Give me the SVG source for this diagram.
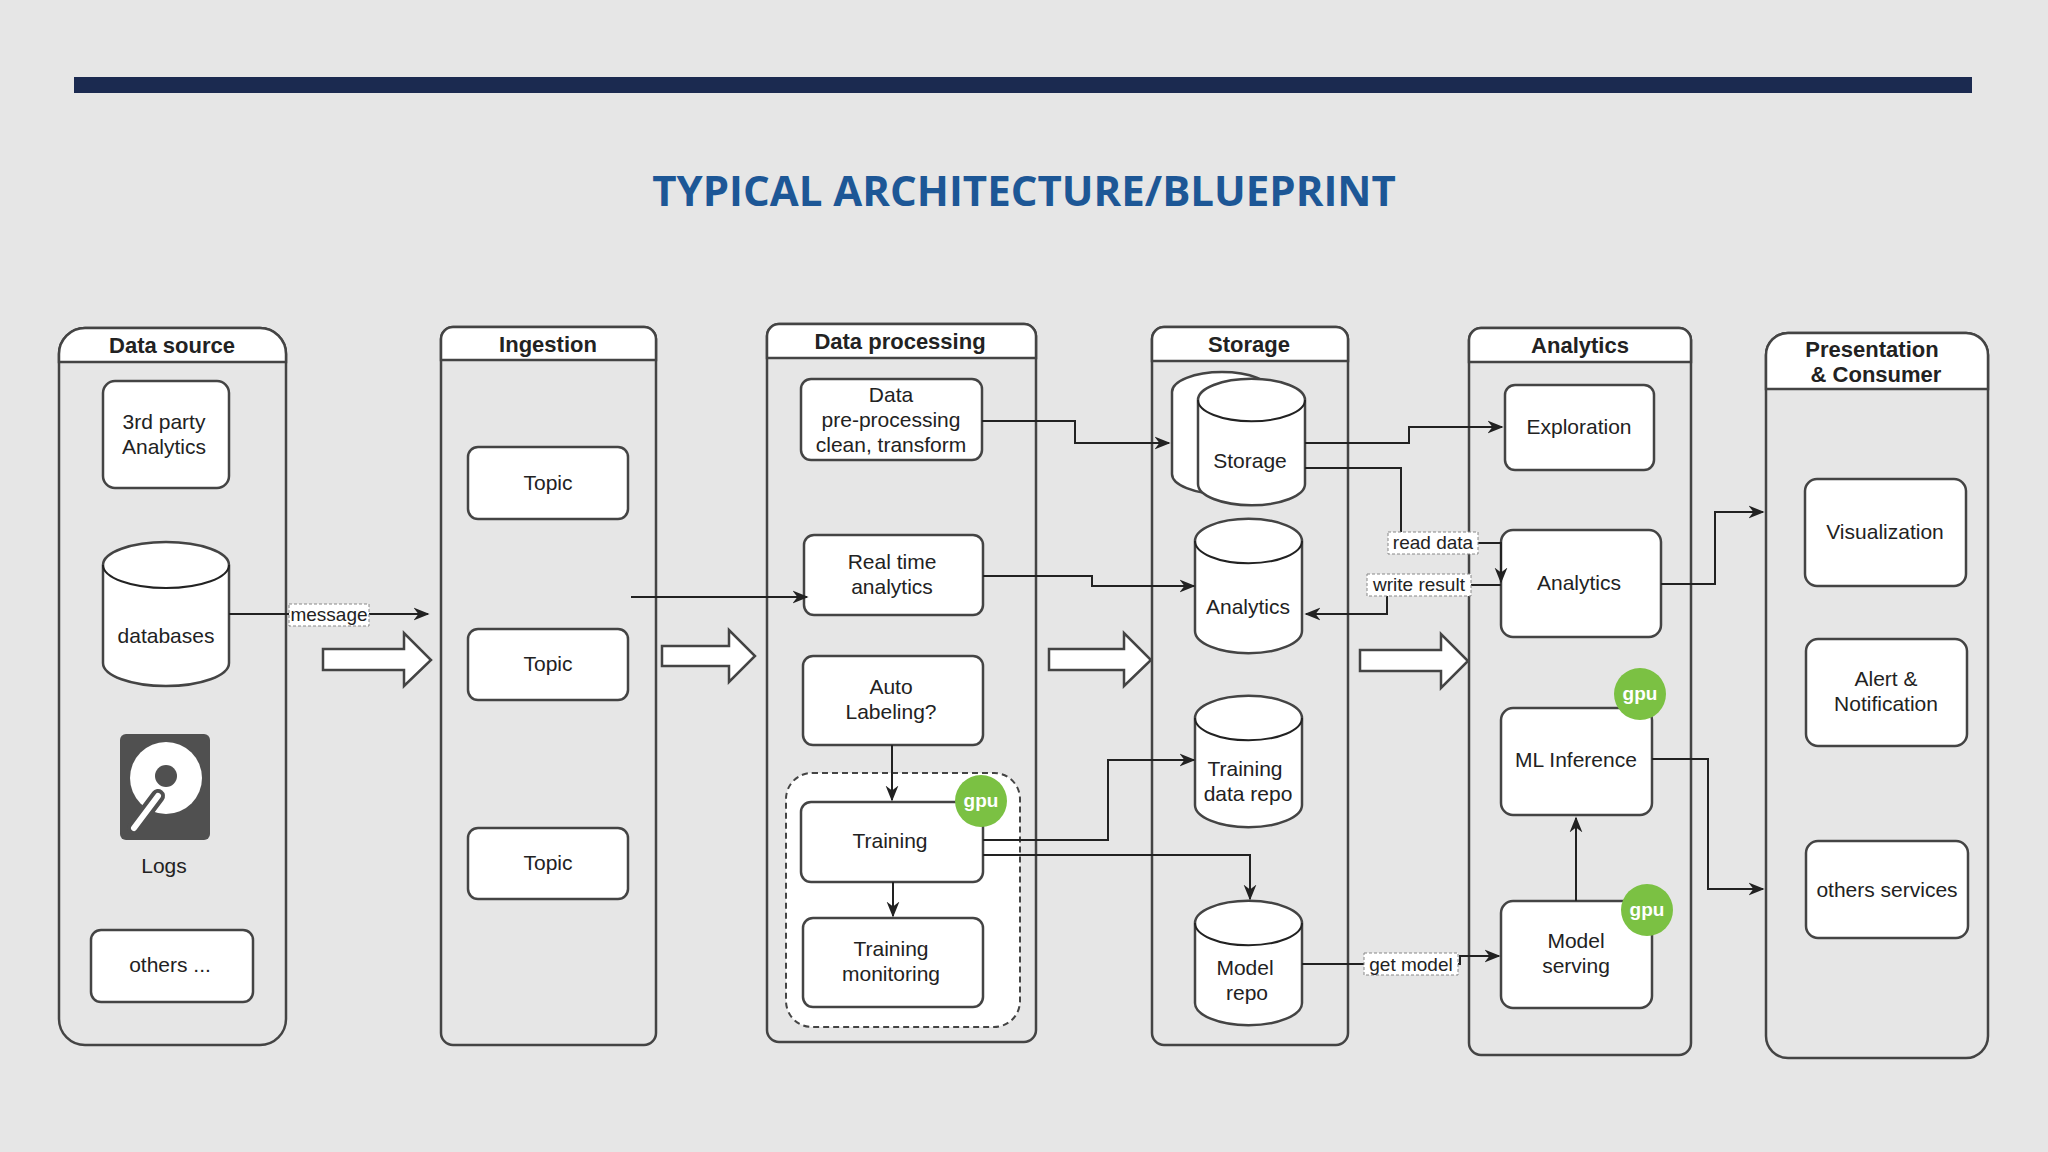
<svg xmlns="http://www.w3.org/2000/svg" width="2048" height="1152" viewBox="0 0 2048 1152">
<style>
text{font-family:"Liberation Sans",Arial,sans-serif;fill:#222;text-anchor:middle}
.t{font-size:21px}
.h{font-size:22px;font-weight:bold}
.lane{fill:#fff;stroke:#444;stroke-width:2.5}
.body{fill:#e6e6e6;stroke:#444;stroke-width:2.5}
.box{fill:#fff;stroke:#444;stroke-width:2.5}
.c{fill:none;stroke:#222;stroke-width:2}
.blk{fill:#fff;stroke:#444;stroke-width:2.5}
.gpu{fill:#7bc143}
.g{font-size:19px;font-weight:bold;fill:#fff}
.lbl{fill:#fff;stroke:#888;stroke-width:1;stroke-dasharray:3 2}
</style>
<defs>
<marker id="a" viewBox="0 0 10 10" refX="9" refY="5" markerWidth="8" markerHeight="8" orient="auto"><path d="M0,1 L10,5 L0,9 L3,5 Z" fill="#222"/></marker>
</defs>
<rect width="2048" height="1152" fill="#e6e6e6"/>
<rect x="74" y="77" width="1898" height="16" fill="#1b2a50"/>
<text x="1024" y="206" style="font-family:'Open Sans','Liberation Sans',sans-serif;font-size:42px;font-weight:bold;fill:#1d5796">TYPICAL ARCHITECTURE/BLUEPRINT</text>

<g id="lane-datasource"><rect class="body" x="59" y="328" width="227" height="717" rx="26"/><path class="lane" d="M59,362 V354 A26,26 0 0 1 85,328 H260 A26,26 0 0 1 286,354 V362 Z"/><text class="h" x="172" y="353">Data source</text></g>
<g id="lane-ingestion"><rect class="body" x="441" y="327" width="215" height="718" rx="12"/><path class="lane" d="M441,360 V339 A12,12 0 0 1 453,327 H644 A12,12 0 0 1 656,339 V360 Z"/><text class="h" x="548" y="352">Ingestion</text></g>
<g id="lane-processing"><rect class="body" x="767" y="324" width="269" height="718" rx="12"/><path class="lane" d="M767,358 V336 A12,12 0 0 1 779,324 H1024 A12,12 0 0 1 1036,336 V358 Z"/><text class="h" x="900" y="349">Data processing</text></g>
<g id="lane-storage"><rect class="body" x="1152" y="327" width="196" height="718" rx="12"/><path class="lane" d="M1152,361 V339 A12,12 0 0 1 1164,327 H1336 A12,12 0 0 1 1348,339 V361 Z"/><text class="h" x="1249" y="352">Storage</text></g>
<g id="lane-analytics"><rect class="body" x="1469" y="328" width="222" height="727" rx="12"/><path class="lane" d="M1469,362 V340 A12,12 0 0 1 1481,328 H1679 A12,12 0 0 1 1691,340 V362 Z"/><text class="h" x="1580" y="353">Analytics</text></g>
<g id="lane-presentation"><rect class="body" x="1766" y="333" width="222" height="725" rx="22"/><path class="lane" d="M1766,389 V355 A22,22 0 0 1 1788,333 H1966 A22,22 0 0 1 1988,355 V389 Z"/><text class="h" x="1872" y="357">Presentation</text><text class="h" x="1876" y="382">&amp; Consumer</text></g>

<g id="n-3rdparty"><rect class="box" x="103" y="381" width="126" height="107" rx="12"/><text class="t" x="164" y="429">3rd party</text><text class="t" x="164" y="454">Analytics</text></g>
<g id="n-databases"><path class="box" d="M103,565 A63,23 0 0 1 229,565 V663 A63,23 0 0 1 103,663 Z"/><path class="c" d="M103,565 A63,23 0 0 0 229,565"/><text class="t" x="166" y="643">databases</text></g>
<g id="n-logs"><rect x="120" y="734" width="90" height="106" rx="6" fill="#505050"/><circle cx="166" cy="778" r="36" fill="#fff"/><path d="M158,796 L134,828" stroke="#505050" stroke-width="14" stroke-linecap="round"/><path d="M158,796 L134,828" stroke="#fff" stroke-width="6" stroke-linecap="round"/><circle cx="166" cy="776" r="11" fill="#505050"/><text class="t" x="164" y="873">Logs</text></g>
<g id="n-others"><rect class="box" x="91" y="930" width="162" height="72" rx="10"/><text class="t" x="170" y="972">others ...</text></g>

<g id="n-topic1"><rect class="box" x="468" y="447" width="160" height="72" rx="10"/><text class="t" x="548" y="490">Topic</text></g>
<g id="n-topic2"><rect class="box" x="468" y="629" width="160" height="71" rx="10"/><text class="t" x="548" y="671">Topic</text></g>
<g id="n-topic3"><rect class="box" x="468" y="828" width="160" height="71" rx="10"/><text class="t" x="548" y="870">Topic</text></g>

<g id="n-preproc"><rect class="box" x="801" y="379" width="181" height="81" rx="10"/><text class="t" x="891" y="402">Data</text><text class="t" x="891" y="427">pre-processing</text><text class="t" x="891" y="452">clean, transform</text></g>
<g id="n-realtime"><rect class="box" x="804" y="535" width="179" height="80" rx="10"/><text class="t" x="892" y="569">Real time</text><text class="t" x="892" y="594">analytics</text></g>
<g id="n-autolabel"><rect class="box" x="803" y="656" width="180" height="89" rx="10"/><text class="t" x="891" y="694">Auto</text><text class="t" x="891" y="719">Labeling?</text></g>
<g id="n-traingroup"><rect x="786" y="773" width="234" height="254" rx="26" fill="#fff" stroke="#444" stroke-width="2" stroke-dasharray="6 4"/></g>
<g id="n-training"><rect class="box" x="801" y="802" width="182" height="80" rx="10"/><text class="t" x="890" y="848">Training</text></g>
<g id="n-monitoring"><rect class="box" x="803" y="918" width="180" height="89" rx="10"/><text class="t" x="891" y="956">Training</text><text class="t" x="891" y="981">monitoring</text></g>
<g id="gpu1"><circle class="gpu" cx="981" cy="801" r="26"/><text class="g" x="981" y="807">gpu</text></g>

<g id="n-storage"><path class="box" d="M1172,392 A50,20 0 0 1 1272,392 V474 A50,20 0 0 1 1172,474 Z"/><path class="box" d="M1198,400 A53,21 0 0 1 1305,400 V484 A53,21 0 0 1 1198,484 Z"/><path class="c" d="M1198,400 A53,21 0 0 0 1305,400"/><text class="t" x="1250" y="468">Storage</text></g>
<g id="n-analyticsdb"><path class="box" d="M1195,541 A53,22 0 0 1 1302,541 V631 A53,22 0 0 1 1195,631 Z"/><path class="c" d="M1195,541 A53,22 0 0 0 1302,541"/><text class="t" x="1248" y="614">Analytics</text></g>
<g id="n-trainrepo"><path class="box" d="M1195,718 A53,22 0 0 1 1302,718 V805 A53,22 0 0 1 1195,805 Z"/><path class="c" d="M1195,718 A53,22 0 0 0 1302,718"/><text class="t" x="1245" y="776">Training</text><text class="t" x="1248" y="801">data repo</text></g>
<g id="n-modelrepo"><path class="box" d="M1195,923 A53,22 0 0 1 1302,923 V1003 A53,22 0 0 1 1195,1003 Z"/><path class="c" d="M1195,923 A53,22 0 0 0 1302,923"/><text class="t" x="1245" y="975">Model</text><text class="t" x="1247" y="1000">repo</text></g>

<g id="n-exploration"><rect class="box" x="1505" y="385" width="149" height="85" rx="10"/><text class="t" x="1579" y="434">Exploration</text></g>
<g id="n-analytics"><rect class="box" x="1501" y="530" width="160" height="107" rx="12"/><text class="t" x="1579" y="590">Analytics</text></g>
<g id="n-mlinf"><rect class="box" x="1501" y="708" width="151" height="107" rx="12"/><text class="t" x="1576" y="767">ML Inference</text></g>
<g id="gpu2"><circle class="gpu" cx="1640" cy="694" r="26"/><text class="g" x="1640" y="700">gpu</text></g>
<g id="n-serving"><rect class="box" x="1501" y="901" width="151" height="107" rx="12"/><text class="t" x="1576" y="948">Model</text><text class="t" x="1576" y="973">serving</text></g>
<g id="gpu3"><circle class="gpu" cx="1647" cy="910" r="26"/><text class="g" x="1647" y="916">gpu</text></g>

<g id="n-vis"><rect class="box" x="1805" y="479" width="161" height="107" rx="12"/><text class="t" x="1885" y="539">Visualization</text></g>
<g id="n-alert"><rect class="box" x="1806" y="639" width="161" height="107" rx="12"/><text class="t" x="1886" y="686">Alert &amp;</text><text class="t" x="1886" y="711">Notification</text></g>
<g id="n-othersvc"><rect class="box" x="1806" y="841" width="162" height="97" rx="12"/><text class="t" x="1887" y="897">others services</text></g>

<g id="connectors">
<path class="c" d="M229,614 H428" marker-end="url(#a)"/>
<rect class="lbl" x="289" y="604" width="80" height="22"/><text x="329" y="621" style="font-size:19px">message</text>
<path class="blk" d="M323,649 H404 V633 L431,660 L404,686 V670 H323 Z"/>
<path class="blk" d="M662,646 H729 V630 L755,656 L729,682 V666 H662 Z"/>
<path class="blk" d="M1049,649 H1124 V633 L1151,660 L1124,686 V670 H1049 Z"/>
<path class="blk" d="M1360,650 H1441 V634 L1468,661 L1441,688 V671 H1360 Z"/>
<path class="c" d="M631,597 H807" marker-end="url(#a)"/>
<path class="c" d="M982,421 H1075 V443 H1169" marker-end="url(#a)"/>
<path class="c" d="M983,576 H1092 V586 H1194" marker-end="url(#a)"/>
<path class="c" d="M892,745 V800" marker-end="url(#a)"/>
<path class="c" d="M893,882 V916" marker-end="url(#a)"/>
<path class="c" d="M983,840 H1108 V760 H1194" marker-end="url(#a)"/>
<path class="c" d="M983,855 H1250 V899" marker-end="url(#a)"/>
<path class="c" d="M1305,443 H1409 V427 H1502" marker-end="url(#a)"/>
<path class="c" d="M1305,468 H1401 V543 H1501 V582" marker-end="url(#a)"/>
<rect class="lbl" x="1388" y="532" width="90" height="22"/><text x="1433" y="549" style="font-size:19px">read data</text>
<path class="c" d="M1501,585 H1387 V614 H1306" marker-end="url(#a)"/>
<rect class="lbl" x="1367" y="574" width="104" height="22"/><text x="1419" y="591" style="font-size:19px">write result</text>
<path class="c" d="M1661,584 H1715 V512 H1763" marker-end="url(#a)"/>
<path class="c" d="M1652,759 H1708 V889 H1763" marker-end="url(#a)"/>
<path class="c" d="M1576,901 V818" marker-end="url(#a)"/>
<path class="c" d="M1302,964 H1460 V956 H1499" marker-end="url(#a)"/>
<rect class="lbl" x="1364" y="953" width="94" height="22"/><text x="1411" y="971" style="font-size:19px">get model</text>
</g>
</svg>
